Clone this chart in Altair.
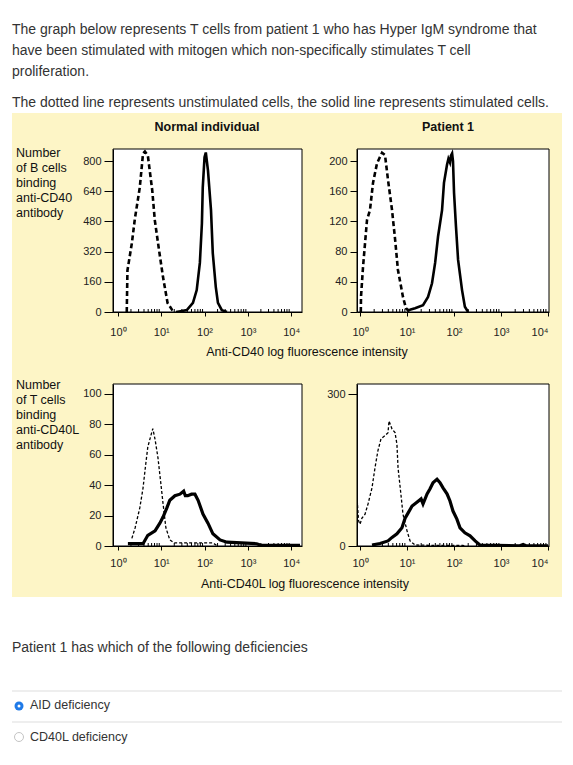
import altair as alt
import pandas as pd

# ---------------- data ----------------
# Normal individual, B cells, anti-CD40
tl_dash_x = [1.6, 1.66, 2.1, 2.45, 3.2, 3.8, 4.2, 4.9, 6.2, 7.1, 8.9, 11, 14, 18, 21]
tl_dash_y = [0, 220, 365, 490, 660, 840, 850, 830, 645, 487, 328, 185, 48, 10, 0]
tl_solid_x = [22, 28, 39, 54, 66, 78, 87, 91, 100, 107, 113, 120, 141, 155, 182, 204, 251, 330]
tl_solid_y = [0, 4, 10, 48, 116, 260, 470, 660, 820, 845, 800, 750, 540, 312, 132, 48, 10, 0]

# Patient 1, B cells, anti-CD40
tr_dash_x = [1.04, 1.05, 1.16, 1.41, 1.63, 1.89, 2.3, 2.94, 3.4, 3.94, 4.8, 5.6, 6.4, 8.2, 9.5, 11.5]
tr_dash_y = [0, 20, 60, 122, 135, 171, 197, 211, 208, 175, 135, 95, 56, 20, 5, 0]
tr_solid_x = [10, 11.5, 14.8, 21.9, 28, 34, 39.6, 45.7, 55.6, 61.1, 70.9, 76, 82, 86, 91, 95,
              100, 110, 122, 148, 170, 199]
tr_solid_y = [2, 3, 5, 9, 20, 38, 65, 100, 135, 171, 195, 203, 198, 207, 210, 200,
              158, 113, 69, 29, 7, 0]

# Normal individual, T cells, anti-CD40L
bl_dash_x = [2.1, 2.5, 3.2, 3.8, 4.4, 4.9, 6.1, 6.4, 7.2, 8.4, 9.8, 11, 12.8, 15.8, 20, 40, 80, 156, 200]
bl_dash_y = [5, 12, 25, 38, 54, 65, 75, 77, 70, 58, 41, 28, 12, 4, 2, 2, 2, 2, 0]
bl_solid_x = [1.7, 3.8, 4.9, 7.2, 9.3, 11, 13.5, 15.8, 20.7, 27, 33, 36, 41, 50, 60, 71, 92,
              120, 156, 228, 330, 1600, 2000, 16000]
bl_solid_y = [1.5, 1.5, 7, 10, 15, 19, 25, 30, 33, 34, 36, 33, 33, 34, 34, 30, 21,
              15, 8, 4, 2.5, 1.5, 0.5, 0.5]

# Patient 1, T cells, anti-CD40L
br_dash_x = [0.87, 0.88, 0.93, 1.0, 1.1, 1.28, 1.48, 1.8, 2.08, 2.4, 2.8, 3.4, 3.94, 4.14, 4.8,
             5.56, 6.1, 6.45, 7.4, 8.2, 10, 11.6, 14.8, 40, 155, 170]
br_dash_y = [0, 85, 50, 43, 55, 63, 83, 115, 154, 188, 212, 218, 224, 247, 231,
             224, 201, 154, 103, 63, 30, 10, 2, 1, 1, 0]
br_solid_x = [1.8, 2.66, 3.94, 4.8, 6.1, 7.8, 9.1, 10.5, 12.8, 15.5, 19.9, 21.9, 26.7, 30.9, 35.7,
              43.4, 50.3, 58.3, 70.9, 82, 95, 115, 134, 170, 219, 281, 355, 2500, 2950, 3400, 10000]
br_solid_y = [2, 5, 10, 17, 24, 36, 55, 65, 79, 85, 93, 83, 103, 113, 125,
              132, 125, 115, 103, 89, 69, 53, 36, 26, 20, 10, 2, 0.5, 3, 0.5, 0.5]

x_major = [1, 10, 100, 1000, 10000]
x_minor = [k * 10 ** d for d in range(4) for k in range(2, 10)]
tl_yticks = [0, 160, 320, 480, 640, 800]
tr_yticks = [0, 40, 80, 120, 160, 200]
bl_yticks = [0, 20, 40, 60, 80, 100]
br_yticks = [0, 300]

# ---------------- styling ----------------
FIG = "Liberation Sans, Arial, Helvetica, sans-serif"
PAGE = "Liberation Sans, Helvetica, Arial, sans-serif"
YELLOW = "#fdf5c6"
ONE = pd.DataFrame({"k": [0]})
LOG_EXPR = "'10' + ['\u2070','\u00b9','\u00b2','\u00b3','\u2074'][round(log(datum.value)/LN10)]"


def txt(s, x, y, size=14, font=PAGE, weight="normal", align="left", color="#333333"):
    return alt.Chart(ONE).mark_text(
        text=s, font=font, fontSize=size, fontWeight=weight, align=align,
        baseline="middle", color=color
    ).encode(x=alt.value(x), y=alt.value(y))


def panel(dx, dy, sx, sy, xdom, ydom, yticks, W, H, dash_w, dash_pat, solid_w,
          xpad, ytick, extra=None):
    xs = alt.Scale(type="log", domain=xdom, nice=False)
    ys = alt.Scale(domain=ydom, nice=False, zero=True)
    xaxis = alt.Axis(values=x_major, labelExpr=LOG_EXPR, title="", tickSize=4, labelPadding=xpad,
                     zindex=1, grid=False)
    yaxis = alt.Axis(values=yticks, title="", tickSize=ytick, labelPadding=3, zindex=1, grid=False)
    frame = alt.Chart(ONE).mark_rect(fill="white", stroke="black", strokeWidth=1).encode(
        x=alt.value(0), x2=alt.value(W), y=alt.value(0), y2=alt.value(H))
    dash = alt.Chart(pd.DataFrame({"x": dx, "y": dy})).mark_line(
        color="black", strokeWidth=dash_w, strokeDash=dash_pat, clip=True
    ).encode(x=alt.X("x:Q", scale=xs, axis=xaxis), y=alt.Y("y:Q", scale=ys, axis=yaxis))
    solid = alt.Chart(pd.DataFrame({"x": sx, "y": sy})).mark_line(
        color="black", strokeWidth=solid_w, clip=True
    ).encode(x=alt.X("x:Q", scale=xs, axis=xaxis), y=alt.Y("y:Q", scale=ys, axis=yaxis))
    minor = alt.Chart(pd.DataFrame({"x": x_minor})).mark_rule(
        color="black", strokeWidth=1, clip=True
    ).encode(x=alt.X("x:Q", scale=xs, axis=xaxis), y=alt.value(H), y2=alt.value(H - 3))
    layers = (extra or []) + [frame, dash, solid, minor]
    return alt.layer(*layers).properties(width=W, height=H)


# page decoration, positioned relative to the top-left plot's origin
deco = [
    alt.Chart(ONE).mark_rect(fill="white").encode(
        x=alt.value(-105), x2=alt.value(-104), y=alt.value(-141), y2=alt.value(-140)),
    alt.Chart(ONE).mark_rect(fill=YELLOW).encode(
        x=alt.value(-101), x2=alt.value(449), y=alt.value(-36), y2=alt.value(448)),
    txt("The graph below represents T cells from patient 1 who has Hyper IgM syndrome that", -101, -119),
    txt("have been stimulated with mitogen which non-specifically stimulates T cell", -101, -98),
    txt("proliferation.", -101, -77),
    txt("The dotted line represents unstimulated cells, the solid line represents stimulated cells.", -101, -46),
    txt("Normal individual", 94, -22, size=12.5, font=FIG, weight="bold", align="center", color="#111111"),
    txt("Patient 1", 335, -22, size=12.5, font=FIG, weight="bold", align="center", color="#111111"),
    txt("Anti-CD40 log fluorescence intensity", 194, 203, size=12.5, font=FIG, align="center", color="#111111"),
    txt("Anti-CD40L log fluorescence intensity", 192, 435, size=12.5, font=FIG, align="center", color="#111111"),
    txt("Patient 1 has which of the following deficiencies", -101, 499),
    alt.Chart(ONE).mark_rule(color="#dddddd", strokeWidth=1).encode(
        x=alt.value(-101), x2=alt.value(449), y=alt.value(542)),
    alt.Chart(ONE).mark_rule(color="#dddddd", strokeWidth=1).encode(
        x=alt.value(-101), x2=alt.value(449), y=alt.value(573)),
    alt.Chart(ONE).mark_point(shape="circle", filled=True, size=81, color="#1f7ae8", opacity=1).encode(
        x=alt.value(-94), y=alt.value(557)),
    alt.Chart(ONE).mark_point(shape="circle", filled=True, size=9, color="white", opacity=1).encode(
        x=alt.value(-94), y=alt.value(557)),
    alt.Chart(ONE).mark_point(shape="circle", size=81, fill="white", stroke="#c4c4c4", strokeWidth=1,
                              opacity=1, fillOpacity=1).encode(x=alt.value(-94), y=alt.value(588)),
    txt("AID deficiency", -83, 556, size=12.5),
    txt("CD40L deficiency", -83, 588, size=12.5),
]
for i, line in enumerate(["Number", "of B cells", "binding", "anti-CD40", "antibody"]):
    deco.append(txt(line, -97, 4 + 15 * i, size=12.5, font=FIG, color="#111111"))
for i, line in enumerate(["Number", "of T cells", "binding", "anti-CD40L", "antibody"]):
    deco.append(txt(line, -97, 236 + 15 * i, size=12.5, font=FIG, color="#111111"))

TLd = [0.77, 17800]
TRd = [0.863, 10470]

tl = panel(tl_dash_x, tl_dash_y, tl_solid_x, tl_solid_y, TLd, [0, 863.6], tl_yticks, 189, 163,
           2.6, [5, 3], 2.6, xpad=10, ytick=9, extra=deco)
tr = panel(tr_dash_x, tr_dash_y, tr_solid_x, tr_solid_y, TRd, [0, 215.9], tr_yticks, 192, 163,
           2.6, [5, 3], 2.6, xpad=10, ytick=7)
bl = panel(bl_dash_x, bl_dash_y, bl_solid_x, bl_solid_y, TLd, [0, 106.3], bl_yticks, 189, 162,
           1.3, [3, 2], 3.2, xpad=7, ytick=9)
br = panel(br_dash_x, br_dash_y, br_solid_x, br_solid_y, TRd, [0, 320], br_yticks, 192, 162,
           1.3, [3, 2], 3.2, xpad=7, ytick=9)

chart = alt.concat(
    tl, tr, bl, br, columns=2, spacing={"row": 72, "column": 55}, bounds="flush"
).properties(padding=0).configure_view(
    strokeWidth=0
).configure_axis(
    labelFont=FIG, labelFontSize=11, labelColor="#222222", domainColor="black", tickColor="black",
    domainWidth=1, tickWidth=1
)

chart.save("out.html", embed_options={"renderer": "svg", "actions": False})
